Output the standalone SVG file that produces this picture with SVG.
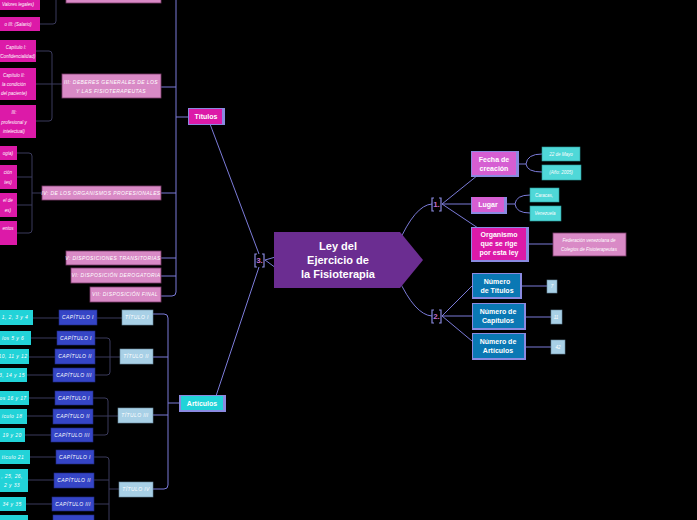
<svg xmlns="http://www.w3.org/2000/svg" width="697" height="520" viewBox="0 0 697 520">
<style>
text{font-family:"Liberation Sans",Arial,sans-serif;fill:#fff;text-anchor:middle}
.b{font-weight:bold;font-size:7px}
.s{font-style:italic;font-size:5px;letter-spacing:0.4px}
.t{font-style:italic;font-size:4.5px}
.c{fill:none;stroke:#7b7bd8;stroke-width:1}
.d{fill:none;stroke:#3b3b5c;stroke-width:1}
.pk{fill:#d98ac6;stroke:#7a3a6a;stroke-width:0.8}
.mg{fill:#dc1aa8}
.or{fill:#d65ed2}
.cy{fill:#22d3d8}
.tq{fill:#4fd8d8;stroke:#2a9a9a;stroke-width:0.6}
.lb{fill:#a8d0e6;stroke:#6a8aa0;stroke-width:0.6}
.bl{fill:#3545c6;stroke:#1e2a80;stroke-width:0.6}
.nb{fill:#0a78b4}
.sh{fill:#8a8ae0}
.br{fill:none;stroke:#8a8ae0;stroke-width:1.2}
.num{font-size:8px;font-weight:bold;fill:#c070d0}
</style>
<rect width="697" height="520" fill="#000"/>
<g id="connectors">
<path class="c" d="M300 250 L265 260 M276 268 L265 260"/>
<path class="c" d="M259 254 L210 124 M259 267 L216 396"/>
<path class="c" d="M398 244 Q415 205 432 204 M398 278 Q415 315 432 316"/>
<path class="c" d="M442 204 L478 175 M442 204 L472 204 M442 204 L478 228"/>
<path class="c" d="M442 316 L478 280 M442 316 L473 316 M442 316 L478 346"/>
<path class="c" d="M516 164 L526 164 Q527 154 542 154 M526 164 Q527 172 542 172"/>
<path class="c" d="M504 204 L515 204 Q516 195 530 195 M515 204 Q516 213 530 213"/>
<path class="c" d="M526 244 L553 244 M520 286 L547 286 M524 317 L551 317 M524 347 L551 347"/>
<path class="c" d="M176 0 L176 292 Q176 296 172 296 L161 296 M176 276 L161 276 M176 258 L161 258 M176 193 L161 193 M176 87 L161 87 M176 117 L188 117 M176 -2 L161 -2"/>
<path class="c" d="M168 318 L168 485 Q168 489 164 489 L153 489 M168 318 Q168 314 164 314 L153 314 M168 357 L153 357 M168 415 L153 415 M168 403 L180 403"/>
<path class="d" d="M36 51 L49 51 Q52 51 52 54 L52 118 Q52 121 49 121 L36 121 M36 84 L62 84 M40 24 L53 24 Q56 24 56 21 L56 0"/>
<path class="d" d="M17 153 L29 153 Q32 153 32 156 L32 230 Q32 233 29 233 L17 233 M17 177 L32 177 M17 205 L32 205 M32 193 L42 193"/>
<path class="d" d="M33 318 L122 318"/>
<path class="d" d="M31 338 L57 338 M29 357 L120 357 M27 375 L53 375 M95 338 L107 338 Q110 338 110 341 L110 372 Q110 375 107 375 L95 375"/>
<path class="d" d="M29 398 L55 398 M27 416 L118 416 M25 435 L51 435 M93 398 L105 398 Q108 398 108 401 L108 432 Q108 435 105 435 L93 435"/>
<path class="d" d="M30 457 L56 457 M28 480 L54 480 M26 504 L52 504 M94 457 L106 457 Q109 457 109 460 L109 520 M94 480 L109 480 M94 504 L109 504 M109 489 L119 489"/>
</g>
<g id="central">
<polygon points="274,232 400,232 423,260 400,288 274,288" fill="#6b2d91"/>
<text class="b" x="338" y="250" style="font-size:11px">Ley del</text>
<text class="b" x="338" y="264" style="font-size:11px">Ejercicio de</text>
<text class="b" x="338" y="278" style="font-size:11px">la Fisioterapia</text>
</g>
<g id="n3"><path class="br" d="M257 254 L255 254 L255 267 L257 267 M262 254 L264 254 L264 267 L262 267"/><text class="num" x="259.5" y="263">3.</text></g>
<g id="n1"><path class="br" d="M434 198 L432 198 L432 211 L434 211 M439 198 L441 198 L441 211 L439 211"/><text class="num" x="436.5" y="207">1.</text></g>
<g id="n2"><path class="br" d="M434 310 L432 310 L432 323 L434 323 M439 310 L441 310 L441 323 L439 323"/><text class="num" x="436.5" y="319">2.</text></g>
<g id="titulos"><rect class="sh" x="188" y="108" width="37" height="17"/><rect class="mg" x="189" y="109" width="33" height="15"/><text class="b" x="206" y="119">Títulos</text></g>
<g id="articulos"><rect class="sh" x="179" y="395" width="47" height="17"/><rect class="cy" x="181" y="396" width="42" height="14"/><text class="b" x="202" y="406">Artículos</text></g>
<g id="fecha"><rect class="sh" x="471" y="151" width="48" height="26"/><rect class="or" x="472" y="152" width="44" height="23"/><text class="b" x="494" y="162">Fecha de</text><text class="b" x="494" y="171">creación</text></g>
<g id="lugar"><rect class="sh" x="471" y="197" width="36" height="17"/><rect class="or" x="472" y="197" width="32" height="15"/><text class="b" x="488" y="207">Lugar</text></g>
<g id="organismo"><rect class="sh" x="471" y="227" width="58" height="35"/><rect class="mg" x="472" y="228" width="54" height="32"/><text class="b" x="499" y="237">Organismo</text><text class="b" x="499" y="246">que se rige</text><text class="b" x="499" y="255">por esta ley</text></g>
<g id="ntitulos"><rect class="sh" x="472" y="273" width="50" height="26"/><rect class="nb" x="473" y="274" width="47" height="23"/><text class="b" x="497" y="284">Número</text><text class="b" x="497" y="293">de Títulos</text></g>
<g id="ncapitulos"><rect class="sh" x="472" y="303" width="54" height="27"/><rect class="nb" x="473" y="304" width="51" height="24"/><text class="b" x="498" y="314">Número de</text><text class="b" x="498" y="323">Capítulos</text></g>
<g id="narticulos"><rect class="sh" x="472" y="333" width="54" height="27"/><rect class="nb" x="473" y="334" width="51" height="24"/><text class="b" x="498" y="344">Número de</text><text class="b" x="498" y="353">Artículos</text></g>
<g id="v22"><rect class="tq" x="542" y="147" width="38" height="14"/><text class="t" x="561" y="156">22 de Mayo</text></g>
<g id="v2005"><rect class="tq" x="542" y="165" width="39" height="15"/><text class="t" x="561" y="174">(Año: 2005)</text></g>
<g id="vcar"><rect class="tq" x="530" y="188" width="29" height="14"/><text class="t" x="544" y="197">Caracas,</text></g>
<g id="vven"><rect class="tq" x="530" y="206" width="31" height="15"/><text class="t" x="545" y="215">Venezuela</text></g>
<g id="vfed"><rect class="pk" x="553" y="233" width="73" height="23"/><text class="t" x="589" y="242">Federación venezolana de</text><text class="t" x="589" y="251">Colegios de Fisioterapeutas</text></g>
<g id="v7"><rect class="lb" x="547" y="280" width="10" height="13"/><text class="t" x="552" y="288">7</text></g>
<g id="v11"><rect class="lb" x="551" y="310" width="11" height="14"/><text class="t" x="556" y="319">11</text></g>
<g id="v42"><rect class="lb" x="551" y="340" width="14" height="14"/><text class="t" x="558" y="349">42</text></g>
<g id="tit-top"><rect class="pk" x="66" y="-10" width="95" height="13"/></g>
<g id="tit3"><rect class="pk" x="62" y="74" width="99" height="24"/><text class="s" x="111" y="84">III: DEBERES GENERALES DE LOS</text><text class="s" x="111" y="93">Y LAS FISIOTERAPEUTAS</text></g>
<g id="tit4"><rect class="pk" x="42" y="186" width="119" height="14"/><text class="s" x="101" y="195">IV: DE LOS ORGANISMOS PROFESIONALES</text></g>
<g id="tit5"><rect class="pk" x="66" y="251" width="95" height="14"/><text class="s" x="113" y="260">V: DISPOSICIONES TRANSITORIAS</text></g>
<g id="tit6"><rect class="pk" x="71" y="268" width="90" height="15"/><text class="s" x="116" y="277">VI: DISPOSICIÓN DEROGATORIA</text></g>
<g id="tit7"><rect class="pk" x="90" y="287" width="71" height="15"/><text class="s" x="125" y="296">VII: DISPOSICIÓN FINAL</text></g>
<g id="cap-a"><rect class="mg" x="-2" y="-4" width="42" height="14"/><text class="t" x="18" y="6">Valores legales)</text></g>
<g id="cap-b"><rect class="mg" x="-2" y="17" width="42" height="14"/><text class="t" x="18" y="26">o III: (Salario)</text></g>
<g id="cap-c"><rect class="mg" x="-2" y="40" width="38" height="22"/><text class="t" x="16" y="49">Capítulo I:</text><text class="t" x="17" y="58">(Confidencialidad)</text></g>
<g id="cap-d"><rect class="mg" x="-2" y="68" width="38" height="32"/><text class="t" x="14" y="77">Capítulo II:</text><text class="t" x="14" y="86">la condición</text><text class="t" x="14" y="95">del paciente)</text></g>
<g id="cap-e"><rect class="mg" x="-2" y="105" width="38" height="33"/><text class="t" x="14" y="114">III:</text><text class="t" x="14" y="124">profesional y</text><text class="t" x="14" y="133">intelectual)</text></g>
<g id="cap-f"><rect class="mg" x="-2" y="146" width="19" height="14"/><text class="t" x="8" y="155">ogía)</text></g>
<g id="cap-g"><rect class="mg" x="-2" y="165" width="19" height="24"/><text class="t" x="8" y="174">ción</text><text class="t" x="8" y="184">tes)</text></g>
<g id="cap-h"><rect class="mg" x="-2" y="193" width="19" height="24"/><text class="t" x="8" y="202">el de</text><text class="t" x="8" y="212">es)</text></g>
<g id="cap-i"><rect class="mg" x="-2" y="221" width="19" height="24"/><text class="t" x="8" y="230">entos</text></g>
<g id="T1"><rect class="lb" x="122" y="310" width="31" height="15"/><text class="s" x="137" y="319">TÍTULO I</text></g>
<g id="T2"><rect class="lb" x="120" y="349" width="33" height="15"/><text class="s" x="136" y="358">TÍTULO II</text></g>
<g id="T3"><rect class="lb" x="118" y="408" width="35" height="15"/><text class="s" x="135" y="417">TÍTULO III</text></g>
<g id="T4"><rect class="lb" x="119" y="482" width="34" height="15"/><text class="s" x="136" y="491">TÍTULO IV</text></g>
<g id="C11"><rect class="bl" x="59" y="310" width="38" height="15"/><text class="s" x="78" y="319">CAPÍTULO I</text></g>
<g id="C21"><rect class="bl" x="57" y="331" width="38" height="14"/><text class="s" x="76" y="340">CAPÍTULO I</text></g>
<g id="C22"><rect class="bl" x="55" y="349" width="40" height="15"/><text class="s" x="75" y="358">CAPÍTULO II</text></g>
<g id="C23"><rect class="bl" x="53" y="368" width="42" height="14"/><text class="s" x="74" y="377">CAPÍTULO III</text></g>
<g id="C31"><rect class="bl" x="55" y="391" width="38" height="14"/><text class="s" x="74" y="400">CAPÍTULO I</text></g>
<g id="C32"><rect class="bl" x="53" y="409" width="40" height="15"/><text class="s" x="73" y="418">CAPÍTULO II</text></g>
<g id="C33"><rect class="bl" x="51" y="428" width="42" height="14"/><text class="s" x="72" y="437">CAPÍTULO III</text></g>
<g id="C41"><rect class="bl" x="56" y="450" width="38" height="14"/><text class="s" x="75" y="459">CAPÍTULO I</text></g>
<g id="C42"><rect class="bl" x="54" y="473" width="40" height="15"/><text class="s" x="74" y="482">CAPÍTULO II</text></g>
<g id="C43"><rect class="bl" x="52" y="497" width="42" height="14"/><text class="s" x="73" y="506">CAPÍTULO III</text></g>
<g id="C44"><rect class="bl" x="53" y="515" width="41" height="15"/></g>
<g id="A1"><rect class="cy" x="-2" y="310" width="35" height="15"/><text class="s" x="15" y="319">1, 2, 3 y 4</text></g>
<g id="A2"><rect class="cy" x="-2" y="331" width="33" height="14"/><text class="s" x="13" y="340">los 5 y 6</text></g>
<g id="A3"><rect class="cy" x="-2" y="349" width="31" height="15"/><text class="s" x="13" y="358">10, 11 y 12</text></g>
<g id="A4"><rect class="cy" x="-2" y="368" width="29" height="14"/><text class="s" x="12" y="377">3, 14 y 15</text></g>
<g id="A5"><rect class="cy" x="-2" y="391" width="31" height="14"/><text class="s" x="13" y="400">os 16 y 17</text></g>
<g id="A6"><rect class="cy" x="-2" y="409" width="29" height="15"/><text class="s" x="12" y="418">ículo 18</text></g>
<g id="A7"><rect class="cy" x="-2" y="428" width="27" height="14"/><text class="s" x="12" y="437">19 y 20</text></g>
<g id="A8"><rect class="cy" x="-2" y="450" width="32" height="14"/><text class="s" x="13" y="459">tículo 21</text></g>
<g id="A9"><rect class="cy" x="-2" y="469" width="30" height="23"/><text class="s" x="12" y="478">, 25, 26,</text><text class="s" x="12" y="487">2 y 33</text></g>
<g id="A10"><rect class="cy" x="-2" y="497" width="28" height="14"/><text class="s" x="12" y="506">34 y 35</text></g>
<g id="A11"><rect class="cy" x="-2" y="515" width="30" height="15"/></g>
</svg>
